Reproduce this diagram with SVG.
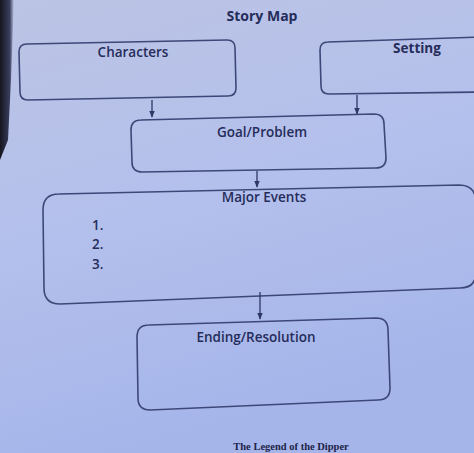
<svg xmlns="http://www.w3.org/2000/svg" width="474" height="453" viewBox="0 0 474 453">
<defs>
<linearGradient id="bg" x1="0" y1="0" x2="0.3" y2="1">
<stop offset="0" stop-color="#bcc4e4"/>
<stop offset="0.5" stop-color="#b4c0ec"/>
<stop offset="1" stop-color="#a5b5ea"/>
</linearGradient>
<linearGradient id="edge" x1="0" y1="0" x2="1" y2="0">
<stop offset="0" stop-color="#15151f"/>
<stop offset="0.7" stop-color="#3a3f5e"/>
<stop offset="1" stop-color="#3a3f5e" stop-opacity="0"/>
</linearGradient>
<marker id="ah" viewBox="0 0 10 10" refX="9" refY="5" markerWidth="7" markerHeight="7" orient="auto" markerUnits="userSpaceOnUse">
<path d="M0,1 L10,5 L0,9 Z" fill="#2e3766"/>
</marker>
<style>
.box{fill:none;stroke:#3d4878;stroke-width:1.6}
.lbl{font-family:"Open Sans","DejaVu Sans",sans-serif;font-size:13.5px;font-weight:600;fill:#252c5a;text-anchor:middle}
.num{font-family:"Open Sans","DejaVu Sans",sans-serif;font-size:13.5px;font-weight:600;fill:#252c5a}
.con{stroke:#2e3766;stroke-width:1.3;fill:none;marker-end:url(#ah)}
</style>
</defs>
<rect width="474" height="453" fill="url(#bg)"/>
<path d="M0,0 L14,0 L11,80 L8,140 L0,160 Z" fill="url(#edge)"/>
<text x="262" y="21" class="lbl" style="font-size:14px;font-weight:bold">Story Map</text>
<g id="characters">
<path class="box" d="M27,44 L227,40 Q235,40 235,48 L236,88 Q236,96 228,96 L28,100 Q20,100 20,92 L19,52 Q19,44 27,44 Z"/>
<text x="133" y="57" class="lbl">Characters</text>
</g>
<g id="setting">
<path class="box" d="M480,37 L328,42 Q320,42 320,50 L321,86 Q321,94 329,94 L480,92"/>
<text x="417" y="53" class="lbl" style="font-weight:bold">Setting</text>
</g>
<g id="goal">
<path class="box" d="M141,120 L374,114 Q384,114 384,124 L386,158 Q386,168 376,168 L142,172 Q132,172 132,162 L131,130 Q131,120 141,120 Z"/>
<text x="262" y="137" class="lbl">Goal/Problem</text>
</g>
<g id="events">
<path class="box" d="M59,194 L459,185 Q475,185 476,201 L476,272 Q476,288 460,288 L60,304 Q44,304 44,288 L43,210 Q43,194 59,194 Z"/>
<text x="264" y="202" class="lbl">Major Events</text>
<text x="92" y="230" class="num">1.</text>
<text x="92" y="249" class="num">2.</text>
<text x="92" y="269" class="num">3.</text>
</g>
<g id="ending">
<path class="box" d="M149,325 L376,318 Q388,318 388,330 L390,388 Q390,400 378,400 L150,410 Q138,410 138,398 L137,337 Q137,325 149,325 Z"/>
<text x="256" y="342" class="lbl">Ending/Resolution</text>
</g>
<g id="connectors">
<line class="con" x1="152" y1="100" x2="152" y2="117"/>
<line class="con" x1="357" y1="95" x2="357" y2="114"/>
<line class="con" x1="257" y1="171" x2="257" y2="187"/>
<line class="con" x1="260" y1="292" x2="260" y2="319"/>
</g>
<text x="291" y="450" style="font-family:'Liberation Serif','DejaVu Serif',serif;font-size:10.5px;font-weight:bold;fill:#1e2448;text-anchor:middle">The Legend of the Dipper</text>
</svg>
